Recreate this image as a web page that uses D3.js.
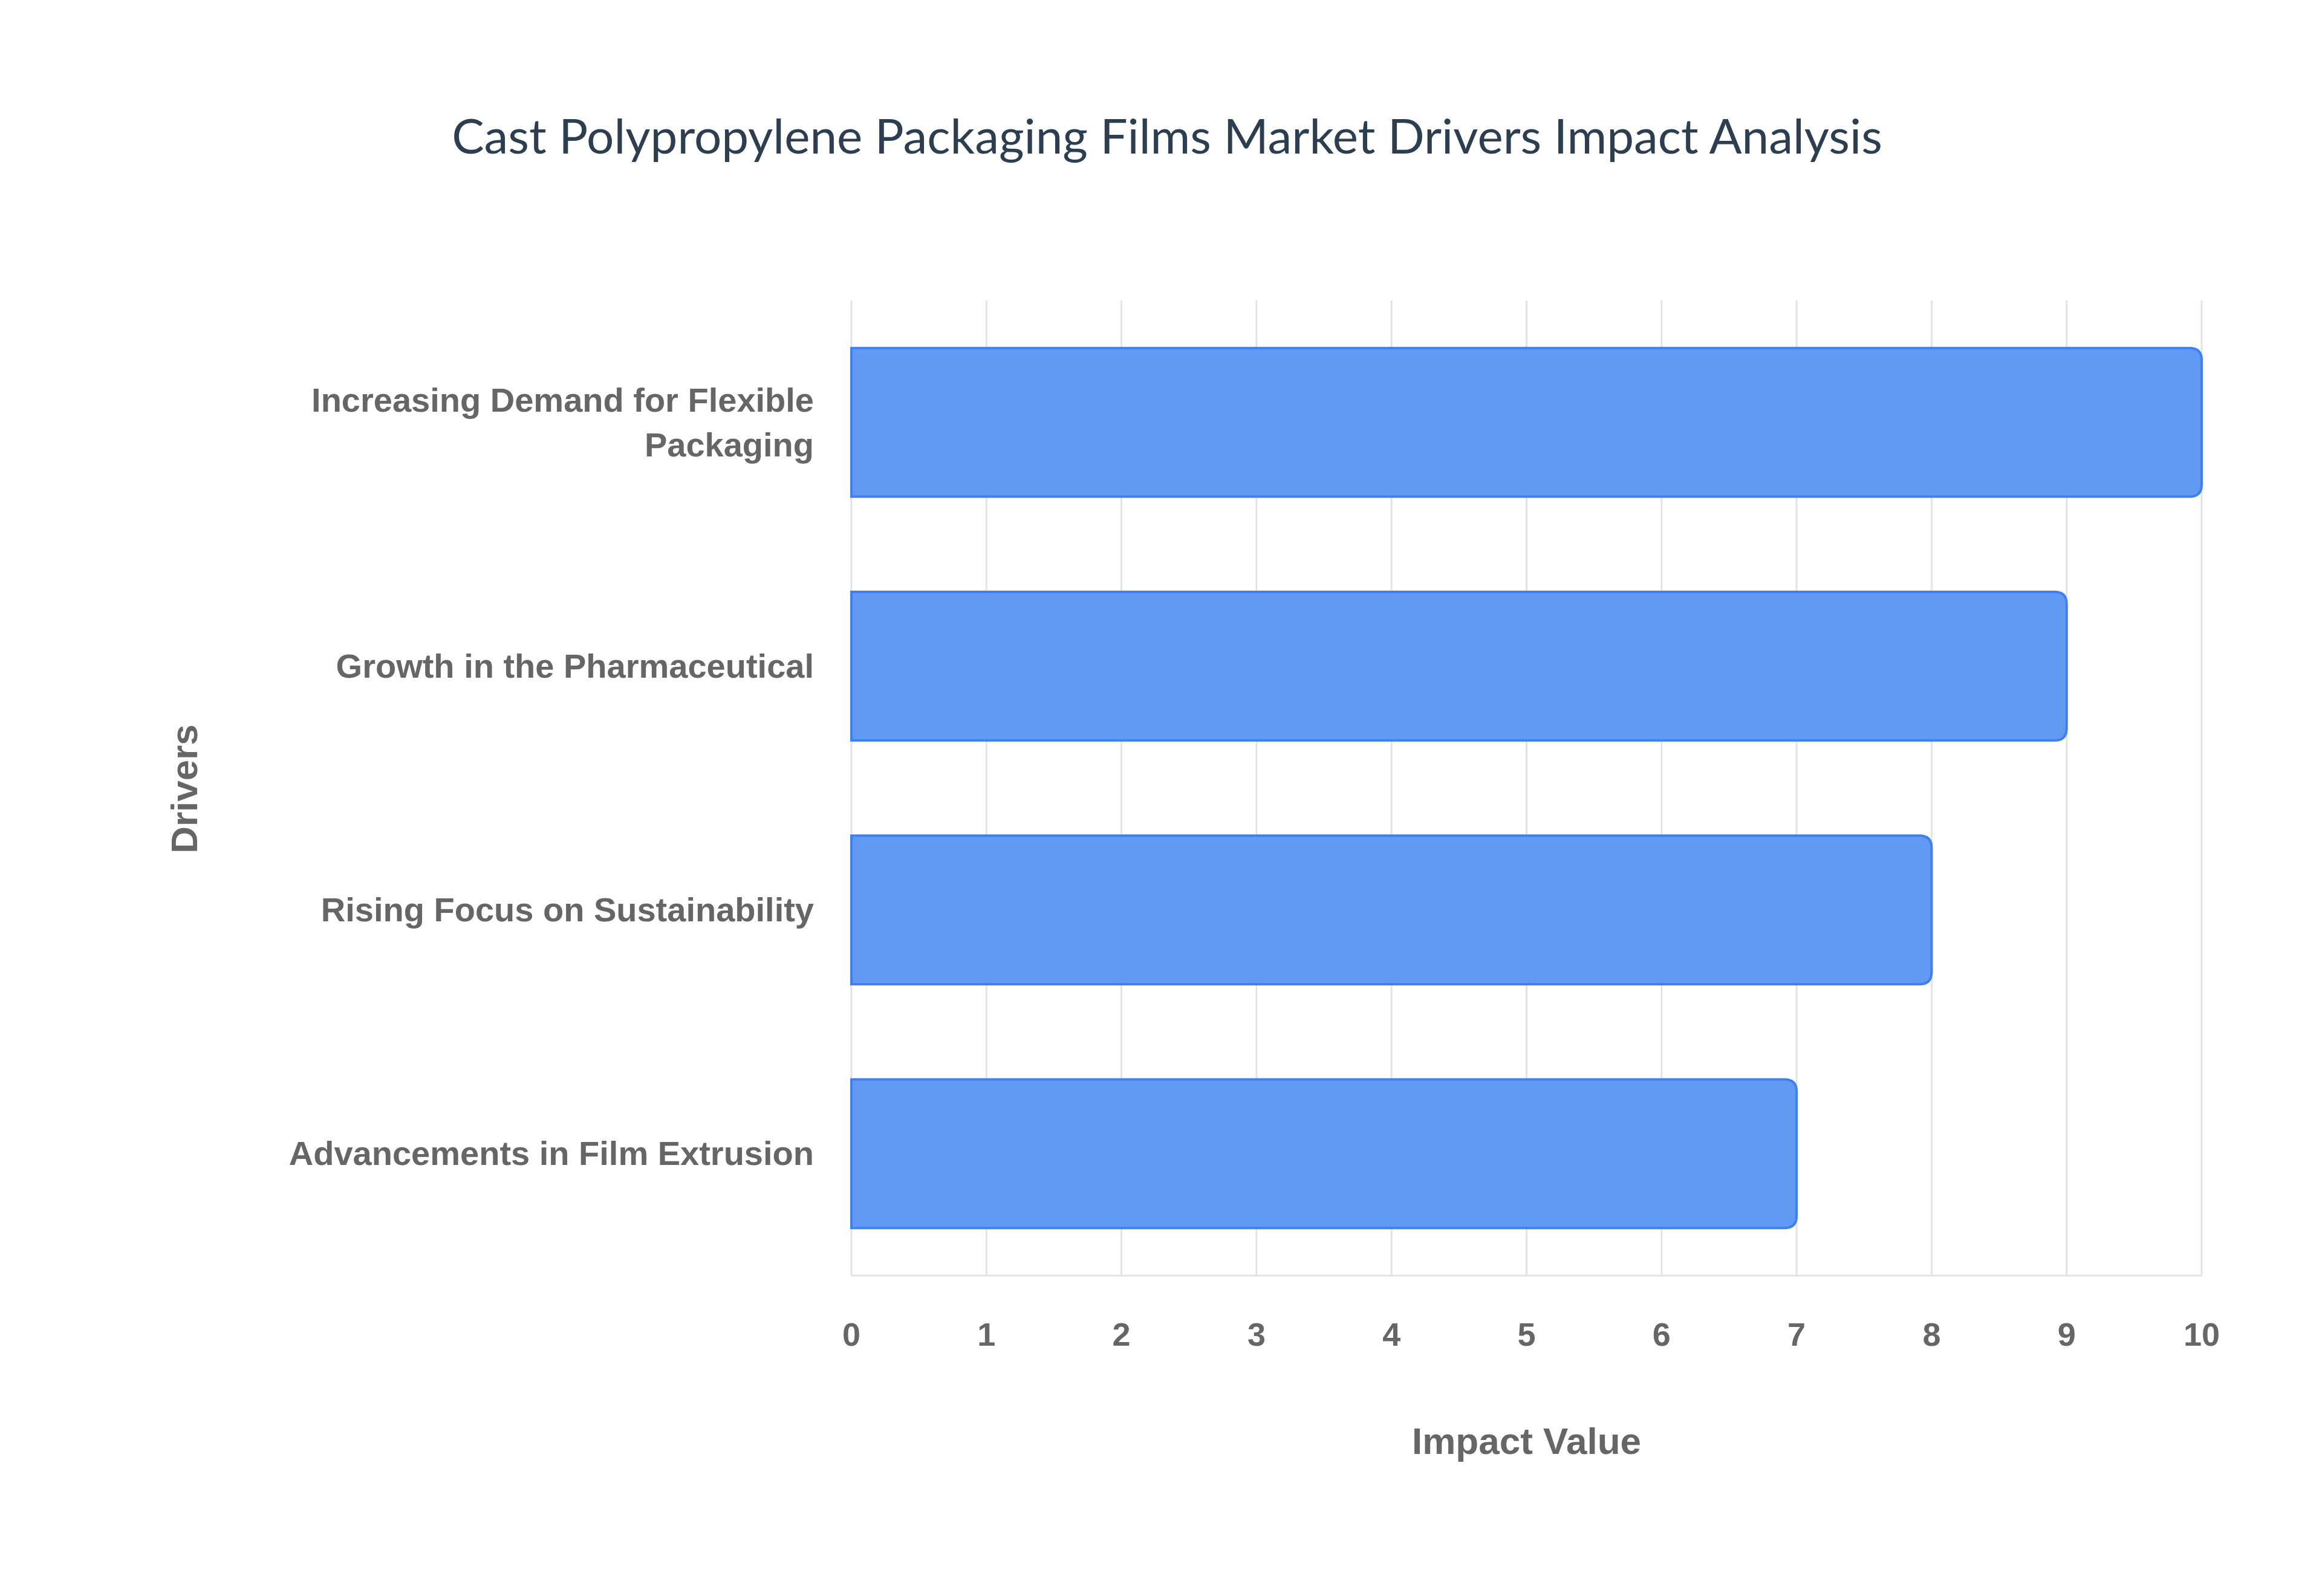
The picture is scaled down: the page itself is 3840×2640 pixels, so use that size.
<!DOCTYPE html>
<html><head><meta charset="utf-8">
<script src="https://cdn.jsdelivr.net/npm/d3@7"></script>
<style>body{margin:0;background:#fff}</style></head>
<body><svg id="c" width="3840" height="2640"></svg>
<script>
const categories = [["Increasing Demand for Flexible","Packaging"],["Growth in the Pharmaceutical"],["Rising Focus on Sustainability"],["Advancements in Film Extrusion"]];
const values = [10, 9, 8, 7];
const ticks = [0,1,2,3,4,5,6,7,8,9,10];

const svg = d3.select("#c");
const L=1408, R=3641, T=497, B=2110;
const x = d3.scaleLinear().domain([0,10]).range([L,R]);
const y = d3.scaleBand().domain(d3.range(categories.length)).range([T,B]).paddingInner(0.39).paddingOuter(0.195);

const g = svg.append("g");
g.selectAll("line.grid").data(ticks).enter().append("line")
  .attr("x1",d=>x(d)).attr("x2",d=>x(d)).attr("y1",T).attr("y2",B)
  .attr("stroke","#e3e3e3").attr("stroke-width",3);
g.append("line").attr("x1",L).attr("x2",R).attr("y1",B).attr("y2",B).attr("stroke","#e3e3e3").attr("stroke-width",3);

const r=20;
g.selectAll("path.bar").data(values).enter().append("path")
  .attr("d",(d,i)=>{const x0=x(0),x1=x(d),y0=y(i),h=y.bandwidth();
    return `M${x0},${y0}H${x1-r}Q${x1},${y0} ${x1},${y0+r}V${y0+h-r}Q${x1},${y0+h} ${x1-r},${y0+h}H${x0}Z`;})
  .attr("fill","#6199f5").attr("stroke","#3f80ee").attr("stroke-width",4);

g.selectAll("text.tick").data(ticks).enter().append("text")
  .attr("x",d=>x(d)).attr("y",2226).attr("text-anchor","middle")
  .attr("font-family","Liberation Sans, Arial, sans-serif").attr("font-weight","bold")
  .attr("font-size",54).attr("fill","#666").text(d=>d);

categories.forEach((lines,i)=>{
  const cy=y(i)+y.bandwidth()/2, lh=74;
  const t=g.append("text").attr("text-anchor","end")
    .attr("font-family","Liberation Sans, Arial, sans-serif").attr("font-weight","bold")
    .attr("font-size",56).attr("fill","#666");
  lines.forEach((s,j)=>t.append("tspan").attr("x",1346)
    .attr("y",cy+(j-(lines.length-1)/2)*lh+19).text(s));
});

svg.append("text").attr("x",1930).attr("y",254).attr("text-anchor","middle")
  .attr("font-family","Lato, Open Sans, sans-serif").attr("font-size",80).attr("fill","#2c3e50")
  .text("Cast Polypropylene Packaging Films Market Drivers Impact Analysis");
svg.append("text").attr("x",(L+R)/2).attr("y",2405).attr("text-anchor","middle")
  .attr("font-family","Liberation Sans, Arial, sans-serif").attr("font-weight","bold")
  .attr("font-size",62).attr("fill","#666").text("Impact Value");
svg.append("text").attr("transform","translate(326,1305) rotate(-90)").attr("text-anchor","middle")
  .attr("font-family","Liberation Sans, Arial, sans-serif").attr("font-weight","bold")
  .attr("font-size",62).attr("fill","#666").text("Drivers");
</script></body></html>
